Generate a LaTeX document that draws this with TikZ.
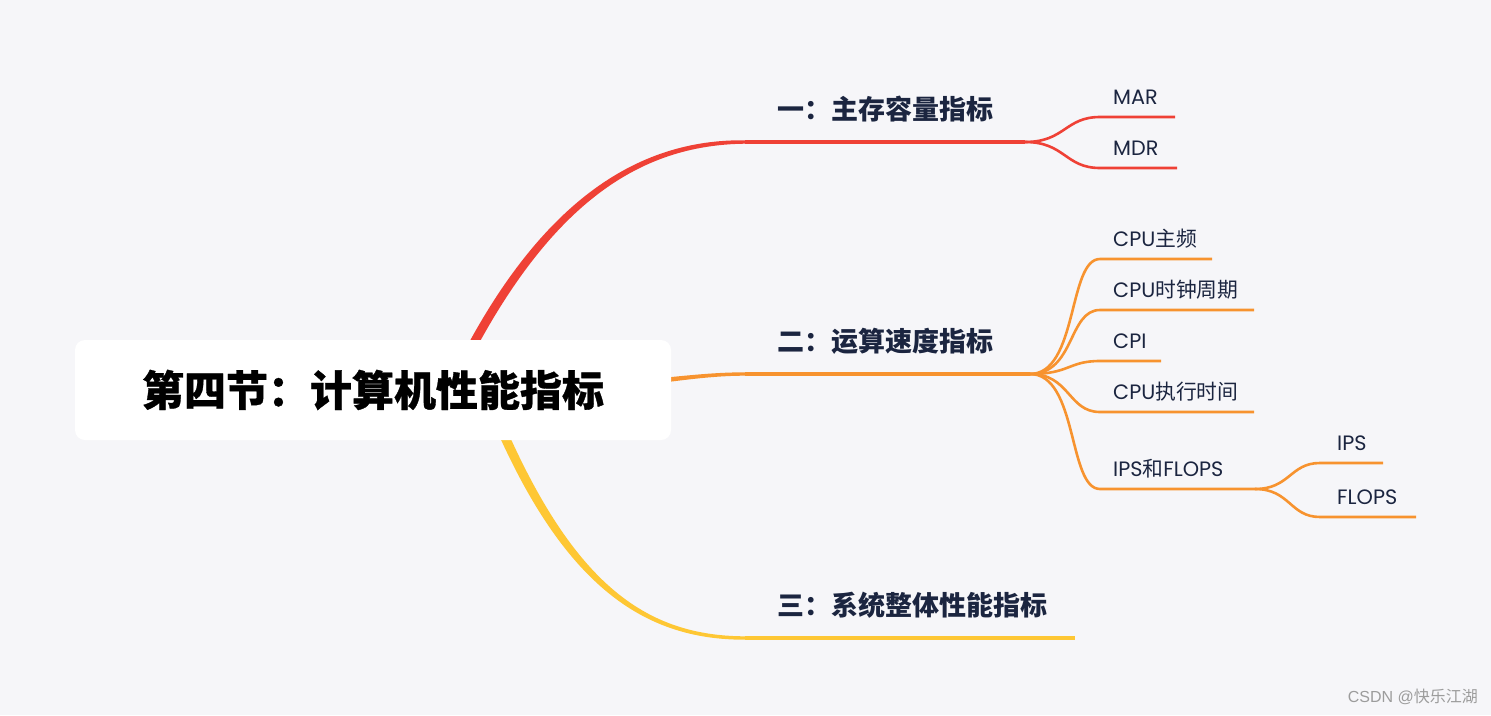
\documentclass[tikz,border=0pt]{standalone}
\usepackage{fontspec}
\setmainfont{Poppins}
\newfontfamily\cjk{Noto Sans CJK SC}
\newfontfamily\cjkheavy{Noto Sans CJK SC}[BoldFeatures={FakeBold=0.8}]
\newfontfamily\wmfont{Liberation Sans}
\definecolor{bgc}{HTML}{F6F6F9}
\definecolor{cred}{HTML}{EF4136}
\definecolor{corange}{HTML}{F7932F}
\definecolor{cyellow}{HTML}{FEC734}
\definecolor{ctext}{HTML}{1B2540}
\definecolor{cwm}{HTML}{9C9C9C}
\begin{document}
\begin{tikzpicture}[x=1pt,y=-1pt,
  leaf/.style={anchor=base west, inner sep=0pt, text=ctext, font=\fontsize{20.8}{24}\selectfont},
  topic/.style={anchor=base west, inner sep=0pt, text=ctext, font=\cjk\bfseries\fontsize{27}{32}\selectfont},
  rootbox/.style={fill=white, draw=none, rounded corners=10pt, minimum width=596pt, minimum height=100pt, inner sep=0pt, font=\cjkheavy\bfseries\fontsize{42}{50}\selectfont, text=black},
  sub/.style={line width=2.6pt},
  main/.style={line width=3.4pt},
]
\useasboundingbox[fill=bgc] (0,0) rectangle (1491,715);

% main coordinates
\coordinate (r1) at (745,142);
\coordinate (rf) at (1025,142);
\coordinate (o1) at (745,374);
\coordinate (of) at (1030,374);
\coordinate (y1) at (745,638);
\coordinate (ye) at (1075,638);

% tapered main branches
\fill[cred] (445,390) .. controls (535,198) and (640,139) .. (745,140.3)
  -- (745,143.7) .. controls (640,145) and (545,202) .. (455,390) -- cycle;
\fill[corange] (500,387.5) .. controls (620,387.5) and (680,372.3) .. (745,372.3)
  -- (745,375.7) .. controls (680,375.7) and (620,394.5) .. (500,394.5) -- cycle;
\fill[cyellow] (480,390) .. controls (555,582) and (640,640) .. (745,639.7)
  -- (745,636.3) .. controls (640,636) and (565,578) .. (490,390) -- cycle;

\draw[cred, main] (r1) -- (rf);
\draw[corange, main] (o1) -- (of);
\draw[cyellow, main] (y1) -- (ye);

% root
\node[rootbox] (root) at (373,390) {第四节：计算机性能指标};

% topics
\node[topic] (t1) at (777,119) {一：主存容量指标};
\node[topic] (t2) at (777,351) {二：运算速度指标};
\node[topic] (t3) at (777,615) {三：系统整体性能指标};

% red leaves
\coordinate (mar1) at (1100,117); \coordinate (mar2) at (1175,117);
\coordinate (mdr1) at (1100,168); \coordinate (mdr2) at (1177,168);
\draw[cred, sub] (rf) .. controls +(40,0) and +(-35,0) .. (mar1) -- (mar2);
\draw[cred, sub] (rf) .. controls +(40,0) and +(-35,0) .. (mdr1) -- (mdr2);
\node[leaf] (mar) at (1113,104) {MAR};
\node[leaf] (mdr) at (1113,155) {MDR};

% orange leaves
\coordinate (a1) at (1100,259); \coordinate (a2) at (1212,259);
\coordinate (b1) at (1100,310); \coordinate (b2) at (1254,310);
\coordinate (c1) at (1100,361); \coordinate (c2) at (1161,361);
\coordinate (d1) at (1100,412); \coordinate (d2) at (1254,412);
\coordinate (e1) at (1100,489); \coordinate (ef) at (1255,489);
\draw[corange, sub] (of) .. controls +(48,0) and +(-32,0) .. (a1) -- (a2);
\draw[corange, sub] (of) .. controls +(45,0) and +(-32,0) .. (b1) -- (b2);
\draw[corange, sub] (of) .. controls +(40,0) and +(-32,0) .. (c1) -- (c2);
\draw[corange, sub] (of) .. controls +(40,0) and +(-32,0) .. (d1) -- (d2);
\draw[corange, sub] (of) .. controls +(48,0) and +(-32,0) .. (e1) -- (ef);
\node[leaf] (la) at (1113,246) {CPU{\cjk 主频}};
\node[leaf] (lb) at (1113,297) {CPU{\cjk 时钟周期}};
\node[leaf] (lc) at (1113,348) {CPI};
\node[leaf] (ld) at (1113,399) {CPU{\cjk 执行时间}};
\node[leaf] (le) at (1113,476) {IPS{\cjk 和}FLOPS};

% IPS / FLOPS
\coordinate (f1) at (1320,463); \coordinate (f2) at (1383,463);
\coordinate (g1) at (1320,517); \coordinate (g2) at (1416,517);
\draw[corange, sub] (ef) .. controls +(35,0) and +(-30,0) .. (f1) -- (f2);
\draw[corange, sub] (ef) .. controls +(35,0) and +(-30,0) .. (g1) -- (g2);
\node[leaf] (lf) at (1337,450) {IPS};
\node[leaf] (lg) at (1337,504) {FLOPS};

% watermark
\node[anchor=base east, inner sep=0pt, text=cwm, font=\fontsize{16}{19}\selectfont] (wm) at (1478,702) {{\wmfont CSDN @}{\cjk 快乐江湖}};
\end{tikzpicture}
\end{document}
